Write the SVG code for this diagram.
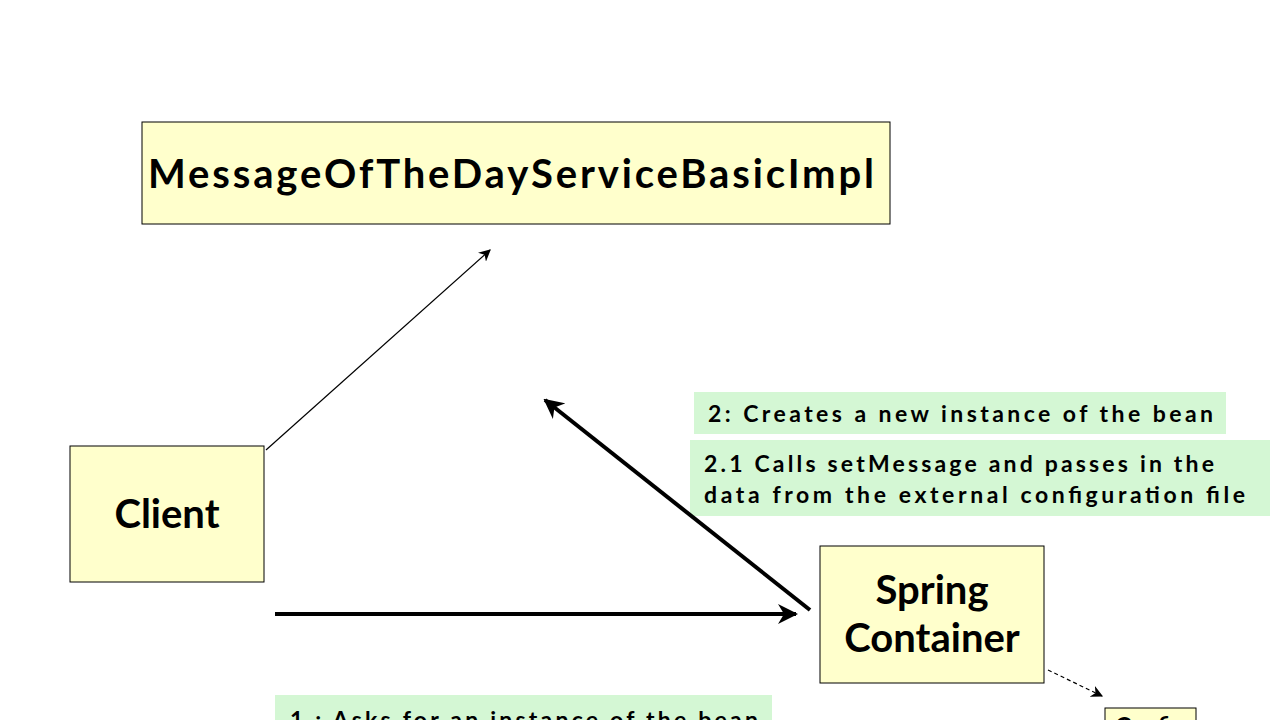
<svg xmlns="http://www.w3.org/2000/svg" width="1280" height="720" viewBox="0 0 1280 720">
<defs>
<style>
.node{fill:#ffffcc;stroke:#000;stroke-width:1}
.lbl{fill:#d4f7d4}
text{font-family:"Lato","Open Sans",sans-serif;font-weight:bold;fill:#000}
.big{font-size:40px}
.sm{font-size:23px}
</style>
<marker id="a" viewBox="0 0 10 10" refX="9" refY="5" markerWidth="5" markerHeight="5" orient="auto"><path d="M0,0L10,5L0,10L3,5z" fill="#000"/></marker>
<marker id="as" viewBox="0 0 10 10" refX="9" refY="5" markerWidth="10" markerHeight="10" orient="auto"><path d="M0,0L10,5L0,10L3,5z" fill="#000"/></marker>
</defs>
<rect width="1280" height="720" fill="#fff"/>
<g id="msgService"><rect class="node" x="142" y="122" width="748" height="102"/><text class="big" x="148" y="188" textLength="726">MessageOfTheDayServiceBasicImpl</text></g>
<g id="client"><rect class="node" x="70" y="446" width="194" height="136"/><text class="big" x="167" y="528" text-anchor="middle">Client</text></g>
<g id="spring"><rect class="node" x="820" y="546" width="224" height="137"/><text class="big" x="932" y="604" text-anchor="middle">Spring</text><text class="big" x="932" y="652" text-anchor="middle">Container</text></g>
<g id="config"><rect class="node" x="1105" y="708" width="91" height="40"/><text x="1150" y="735" text-anchor="middle" font-size="24">Config</text></g>
<g id="labels">
<rect class="lbl" x="694" y="392" width="532" height="42"/><text class="sm" x="708" y="422" textLength="505">2: Creates a new instance of the bean</text>
<rect class="lbl" x="690" y="440" width="580" height="76"/><text class="sm" x="704" y="472" textLength="510">2.1 Calls setMessage and passes in the</text><text class="sm" x="704" y="503" textLength="541">data from the external configuration file</text>
<rect class="lbl" x="275" y="695" width="497" height="40"/><text class="sm" x="290" y="728" textLength="468">1 : Asks for an instance of the bean</text>
</g>
<g id="connectors" stroke="#000" fill="none">
<line x1="266" y1="450" x2="490" y2="250" stroke-width="1.2" marker-end="url(#as)"/>
<line x1="275" y1="614" x2="796" y2="614" stroke-width="4" marker-end="url(#a)"/>
<line x1="810" y1="610" x2="545" y2="400" stroke-width="4" marker-end="url(#a)"/>
<line x1="1048" y1="670" x2="1102" y2="696" stroke-width="1.2" stroke-dasharray="4,3" marker-end="url(#as)"/>
</g>
</svg>
